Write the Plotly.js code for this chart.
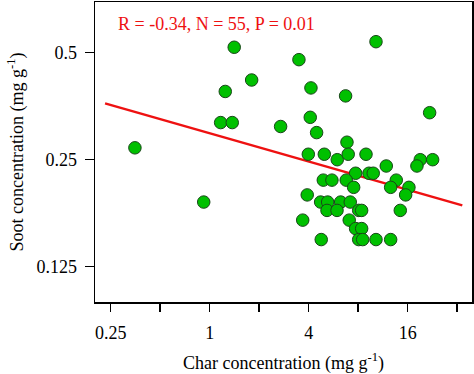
<!DOCTYPE html>
<html>
<head>
<meta charset="utf-8">
<script src="https://cdn.plot.ly/plotly-3.0.1.min.js"></script>
<style>html,body{margin:0;padding:0;background:#fff;}#chart{width:474px;height:374px;}</style>
</head>
<body>
<div id="chart"></div>
<script>
// Char concentration (mg g-1)
const charConc = [1.41, 10.27, 3.49, 1.80, 1.244, 4.13, 6.71, 21.77, 1.166, 1.372,
  2.70, 4.09, 4.47, 6.84, 0.351, 3.98, 4.98, 5.97, 6.96, 8.93,
  19.09, 22.7, 18.22, 11.86, 7.72, 9.31, 9.88, 4.91, 5.54, 6.77,
  13.64, 7.51, 12.61, 16.29, 3.92, 15.56, 4.73, 5.22, 6.26, 7.16,
  5.17, 5.95, 8.06, 8.40, 14.43, 3.68, 7.06, 7.72, 8.40, 4.77,
  8.06, 8.52, 10.27, 12.61, 0.92];
// Soot concentration (mg g-1)
const sootConc = [0.518, 0.537, 0.478, 0.419, 0.389, 0.398, 0.378, 0.339, 0.318, 0.318,
  0.310, 0.329, 0.298, 0.280, 0.270, 0.259, 0.259, 0.25, 0.259, 0.259,
  0.25, 0.25, 0.240, 0.240, 0.229, 0.229, 0.229, 0.219, 0.219, 0.219,
  0.219, 0.209, 0.209, 0.209, 0.199, 0.199, 0.190, 0.190, 0.190, 0.190,
  0.180, 0.180, 0.180, 0.180, 0.180, 0.169, 0.169, 0.160, 0.160, 0.149,
  0.149, 0.149, 0.149, 0.149, 0.190];
// Regression line end points
const fitX = [0.231, 34.4];
const fitY = [0.360, 0.186];
// Ticks
const xTickVals = [0.25, 1, 4, 16];
const xTickText = ['0.25', '1', '4', '16'];
const xMinorTicks = [0.5, 2, 8, 32];
const yTickVals = [0.125, 0.25, 0.5];
const yTickText = ['0.125', '0.25', '0.5'];
const statText = 'R = -0.34, N = 55, P = 0.01';

const serif = 'Liberation Serif, Times New Roman, serif';

const traces = [
  {
    x: fitX, y: fitY, mode: 'lines', type: 'scatter',
    line: {color: '#ee1111', width: 2.5}, hoverinfo: 'skip'
  },
  {
    x: charConc, y: sootConc, mode: 'markers', type: 'scatter',
    marker: {size: 12.5, color: 'rgb(0,192,0)', line: {color: 'rgb(25,70,25)', width: 1}}
  }
];

const layout = {
  width: 474, height: 374,
  margin: {l: 95, r: 2, t: 2, b: 72},
  paper_bgcolor: '#fff', plot_bgcolor: '#fff',
  showlegend: false,
  font: {family: serif, color: '#000', size: 18},
  xaxis: {
    type: 'log', range: [-0.6975, 1.5955],
    tickmode: 'array', tickvals: xTickVals, ticktext: xTickText,
    ticks: 'outside', ticklen: 8, tickwidth: 1.5, tickcolor: '#000',
    minor: {tickmode: 'array', tickvals: xMinorTicks, ticks: 'outside', ticklen: 8, tickwidth: 1.5, tickcolor: '#000', showgrid: false},
    showline: true, linecolor: '#000', linewidth: 1.5, mirror: true,
    showgrid: false, zeroline: false,
    tickfont: {family: serif, size: 18, color: '#000'},
    ticklabelstandoff: 6,
    title: {text: 'Char concentration (mg g<sup>-1</sup>)', font: {family: serif, size: 18, color: '#000'}, standoff: 16}
  },
  yaxis: {
    type: 'log', range: [-1.0025, -0.1583],
    tickmode: 'array', tickvals: yTickVals, ticktext: yTickText,
    ticks: 'outside', ticklen: 9, tickwidth: 1.5, tickcolor: '#000',
    showline: true, linecolor: '#000', linewidth: 1.5, mirror: true,
    showgrid: false, zeroline: false,
    tickfont: {family: serif, size: 18, color: '#000'},
    ticklabelstandoff: 4,
    title: {text: 'Soot concentration (mg g<sup>-1</sup>)', font: {family: serif, size: 18, color: '#000'}, standoff: 8}
  },
  annotations: [{
    text: statText, xref: 'paper', yref: 'paper',
    x: 0.057, y: 0.925, xanchor: 'left', yanchor: 'middle',
    showarrow: false, font: {family: serif, size: 18, color: '#ee1111'}
  }]
};

Plotly.newPlot('chart', traces, layout, {displayModeBar: false, staticPlot: true});
</script>
</body>
</html>
